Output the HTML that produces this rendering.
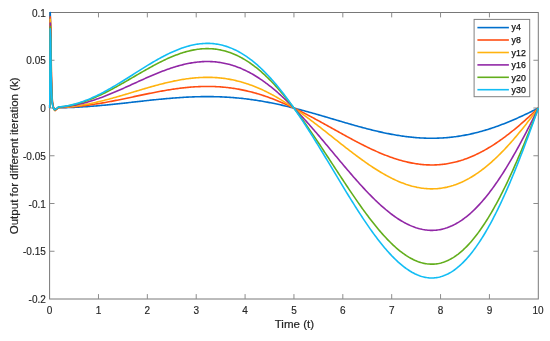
<!DOCTYPE html>
<html><head><meta charset="utf-8"><title>Output for different iteration</title>
<style>
html,body{margin:0;padding:0;background:#fff;}
svg{display:block;}
text{font-family:"Liberation Sans",sans-serif;fill:#262626;}
.tk{font-size:10px;stroke:#262626;stroke-width:0.15px;}
.lb{font-size:11.55px;stroke:#262626;stroke-width:0.2px;}
.lg{font-size:8.8px;fill:#111;stroke:#111;stroke-width:0.25px;}
.ax{stroke:#787878;stroke-width:1;fill:none;}
.cv path{fill:none;stroke-width:1.6;stroke-linejoin:round;stroke-linecap:butt;}
</style></head><body>
<svg width="550" height="341" viewBox="0 0 550 341">
<rect x="0" y="0" width="550" height="341" fill="#fff"/>
<g class="ax">
<rect x="49.60" y="12.50" width="488.70" height="286.50"/>
<path d="M98.47 299.00 V294.10 M98.47 12.50 V17.40 M147.34 299.00 V294.10 M147.34 12.50 V17.40 M196.21 299.00 V294.10 M196.21 12.50 V17.40 M245.08 299.00 V294.10 M245.08 12.50 V17.40 M293.95 299.00 V294.10 M293.95 12.50 V17.40 M342.82 299.00 V294.10 M342.82 12.50 V17.40 M391.69 299.00 V294.10 M391.69 12.50 V17.40 M440.56 299.00 V294.10 M440.56 12.50 V17.40 M489.43 299.00 V294.10 M489.43 12.50 V17.40 M49.60 60.25 H54.50 M538.30 60.25 H533.40 M49.60 108.00 H54.50 M538.30 108.00 H533.40 M49.60 155.75 H54.50 M538.30 155.75 H533.40 M49.60 203.50 H54.50 M538.30 203.50 H533.40 M49.60 251.25 H54.50 M538.30 251.25 H533.40 " stroke="#8c8c8c"/>
</g>
<g class="tk" text-anchor="middle">
<text x="49.60" y="313.5">0</text>
<text x="98.47" y="313.5">1</text>
<text x="147.34" y="313.5">2</text>
<text x="196.21" y="313.5">3</text>
<text x="245.08" y="313.5">4</text>
<text x="293.95" y="313.5">5</text>
<text x="342.82" y="313.5">6</text>
<text x="391.69" y="313.5">7</text>
<text x="440.56" y="313.5">8</text>
<text x="489.43" y="313.5">9</text>
<text x="538.00" y="313.5">10</text>
</g>
<g class="tk" text-anchor="end">
<text x="45.8" y="16.50">0.1</text>
<text x="45.8" y="64.25">0.05</text>
<text x="45.8" y="112.00">0</text>
<text x="45.8" y="159.75">-0.05</text>
<text x="45.8" y="207.50">-0.1</text>
<text x="45.8" y="255.25">-0.15</text>
<text x="45.8" y="303.00">-0.2</text>
</g>
<text class="lb" text-anchor="middle" x="294.4" y="327.7">Time (t)</text>
<text class="lb" text-anchor="middle" transform="translate(17.5 155.8) rotate(-90)">Output for different iteration (k)</text>
<g class="cv">
<path d="M49.75 108.10 L50.25 12.60 L50.65 26.93 L50.77 41.25 L50.98 60.35 L51.20 74.67 L51.49 87.09 L51.86 96.64 L52.29 102.37 L52.72 105.23 L53.70 108.73 L54.60 109.25 L56.30 108.67 L58.40 107.75 L59.60 107.74 L60.80 107.72 L62.00 107.70 L63.20 107.68 L64.40 107.65 L65.60 107.62 L66.79 107.59 L67.99 107.56 L69.19 107.52 L70.39 107.48 L71.59 107.43 L72.79 107.38 L73.99 107.33 L75.19 107.28 L76.39 107.22 L77.59 107.16 L78.79 107.10 L79.99 107.03 L81.19 106.96 L82.39 106.89 L83.59 106.82 L84.79 106.74 L85.99 106.66 L87.19 106.58 L88.39 106.50 L89.59 106.41 L90.79 106.32 L91.99 106.23 L93.19 106.14 L94.39 106.04 L95.59 105.94 L96.79 105.84 L97.99 105.74 L99.19 105.64 L100.39 105.53 L101.59 105.42 L102.79 105.31 L103.99 105.20 L105.19 105.09 L106.39 104.97 L107.59 104.86 L108.79 104.74 L109.99 104.62 L111.19 104.50 L112.39 104.38 L113.59 104.25 L114.79 104.13 L115.99 104.00 L117.18 103.88 L118.38 103.75 L119.58 103.62 L120.78 103.49 L121.98 103.36 L123.18 103.23 L124.38 103.09 L125.58 102.96 L126.78 102.83 L127.98 102.70 L129.18 102.56 L130.38 102.43 L131.58 102.29 L132.78 102.16 L133.98 102.02 L135.18 101.89 L136.38 101.76 L137.58 101.62 L138.78 101.49 L139.98 101.35 L141.18 101.22 L142.38 101.09 L143.58 100.95 L144.78 100.82 L145.98 100.69 L147.18 100.56 L148.38 100.43 L149.58 100.30 L150.78 100.17 L151.98 100.05 L153.18 99.92 L154.38 99.80 L155.58 99.68 L156.78 99.55 L157.98 99.43 L159.18 99.31 L160.38 99.20 L161.58 99.08 L162.78 98.97 L163.98 98.86 L165.18 98.75 L166.37 98.64 L167.57 98.53 L168.77 98.43 L169.97 98.33 L171.17 98.23 L172.37 98.13 L173.57 98.04 L174.77 97.94 L175.97 97.85 L177.17 97.77 L178.37 97.68 L179.57 97.60 L180.77 97.52 L181.97 97.45 L183.17 97.37 L184.37 97.30 L185.57 97.23 L186.77 97.17 L187.97 97.11 L189.17 97.05 L190.37 97.00 L191.57 96.95 L192.77 96.90 L193.97 96.85 L195.17 96.81 L196.37 96.78 L197.57 96.74 L198.77 96.71 L199.97 96.69 L201.17 96.67 L202.37 96.65 L203.57 96.63 L204.77 96.62 L205.97 96.61 L207.17 96.61 L208.37 96.61 L209.57 96.62 L210.77 96.63 L211.97 96.64 L213.17 96.66 L214.37 96.68 L215.56 96.71 L216.76 96.74 L217.96 96.77 L219.16 96.81 L220.36 96.86 L221.56 96.91 L222.76 96.96 L223.96 97.02 L225.16 97.08 L226.36 97.14 L227.56 97.21 L228.76 97.29 L229.96 97.37 L231.16 97.45 L232.36 97.54 L233.56 97.64 L234.76 97.74 L235.96 97.84 L237.16 97.95 L238.36 98.06 L239.56 98.18 L240.76 98.30 L241.96 98.42 L243.16 98.56 L244.36 98.69 L245.56 98.83 L246.76 98.98 L247.96 99.13 L249.16 99.28 L250.36 99.44 L251.56 99.60 L252.76 99.77 L253.96 99.94 L255.16 100.12 L256.36 100.30 L257.56 100.49 L258.76 100.68 L259.96 100.87 L261.16 101.07 L262.36 101.28 L263.56 101.49 L264.76 101.70 L265.95 101.92 L267.15 102.14 L268.35 102.36 L269.55 102.59 L270.75 102.83 L271.95 103.06 L273.15 103.31 L274.35 103.55 L275.55 103.80 L276.75 104.06 L277.95 104.31 L279.15 104.58 L280.35 104.84 L281.55 105.11 L282.75 105.38 L283.95 105.66 L285.15 105.94 L286.35 106.23 L287.55 106.51 L288.75 106.80 L289.95 107.10 L291.15 107.39 L292.35 107.69 L293.55 108.00 L294.75 108.30 L295.95 108.61 L297.15 108.92 L298.35 109.23 L299.55 109.55 L300.75 109.86 L301.95 110.19 L303.15 110.51 L304.35 110.83 L305.55 111.16 L306.75 111.49 L307.95 111.82 L309.15 112.16 L310.35 112.49 L311.55 112.83 L312.75 113.17 L313.95 113.51 L315.14 113.85 L316.34 114.20 L317.54 114.54 L318.74 114.89 L319.94 115.24 L321.14 115.59 L322.34 115.94 L323.54 116.29 L324.74 116.64 L325.94 117.00 L327.14 117.35 L328.34 117.70 L329.54 118.06 L330.74 118.41 L331.94 118.77 L333.14 119.12 L334.34 119.48 L335.54 119.83 L336.74 120.19 L337.94 120.54 L339.14 120.89 L340.34 121.25 L341.54 121.60 L342.74 121.95 L343.94 122.30 L345.14 122.65 L346.34 123.00 L347.54 123.35 L348.74 123.70 L349.94 124.04 L351.14 124.38 L352.34 124.73 L353.54 125.07 L354.74 125.40 L355.94 125.74 L357.14 126.07 L358.34 126.41 L359.54 126.74 L360.74 127.06 L361.94 127.39 L363.14 127.71 L364.34 128.03 L365.53 128.34 L366.73 128.66 L367.93 128.97 L369.13 129.27 L370.33 129.58 L371.53 129.88 L372.73 130.17 L373.93 130.46 L375.13 130.75 L376.33 131.04 L377.53 131.32 L378.73 131.60 L379.93 131.87 L381.13 132.14 L382.33 132.40 L383.53 132.66 L384.73 132.91 L385.93 133.16 L387.13 133.41 L388.33 133.65 L389.53 133.88 L390.73 134.11 L391.93 134.34 L393.13 134.56 L394.33 134.77 L395.53 134.98 L396.73 135.18 L397.93 135.38 L399.13 135.57 L400.33 135.76 L401.53 135.94 L402.73 136.11 L403.93 136.28 L405.13 136.44 L406.33 136.59 L407.53 136.74 L408.73 136.88 L409.93 137.02 L411.13 137.15 L412.33 137.27 L413.53 137.38 L414.72 137.49 L415.92 137.59 L417.12 137.69 L418.32 137.77 L419.52 137.85 L420.72 137.93 L421.92 137.99 L423.12 138.05 L424.32 138.10 L425.52 138.15 L426.72 138.18 L427.92 138.21 L429.12 138.23 L430.32 138.24 L431.52 138.25 L432.72 138.25 L433.92 138.24 L435.12 138.22 L436.32 138.19 L437.52 138.16 L438.72 138.12 L439.92 138.07 L441.12 138.01 L442.32 137.94 L443.52 137.87 L444.72 137.79 L445.92 137.70 L447.12 137.60 L448.32 137.49 L449.52 137.38 L450.72 137.25 L451.92 137.12 L453.12 136.98 L454.32 136.83 L455.52 136.68 L456.72 136.51 L457.92 136.34 L459.12 136.16 L460.32 135.97 L461.52 135.78 L462.72 135.57 L463.91 135.36 L465.11 135.13 L466.31 134.90 L467.51 134.67 L468.71 134.42 L469.91 134.17 L471.11 133.90 L472.31 133.63 L473.51 133.35 L474.71 133.07 L475.91 132.77 L477.11 132.47 L478.31 132.16 L479.51 131.84 L480.71 131.51 L481.91 131.18 L483.11 130.84 L484.31 130.49 L485.51 130.13 L486.71 129.77 L487.91 129.40 L489.11 129.02 L490.31 128.63 L491.51 128.24 L492.71 127.83 L493.91 127.43 L495.11 127.01 L496.31 126.59 L497.51 126.16 L498.71 125.72 L499.91 125.28 L501.11 124.83 L502.31 124.37 L503.51 123.91 L504.71 123.44 L505.91 122.96 L507.11 122.48 L508.31 121.99 L509.51 121.50 L510.71 121.00 L511.91 120.49 L513.11 119.98 L514.30 119.46 L515.50 118.94 L516.70 118.41 L517.90 117.87 L519.10 117.33 L520.30 116.79 L521.50 116.24 L522.70 115.69 L523.90 115.13 L525.10 114.56 L526.30 114.00 L527.50 113.42 L528.70 112.85 L529.90 112.27 L531.10 111.68 L532.30 111.09 L533.50 110.50 L534.70 109.91 L535.90 109.31 L537.10 108.71 L538.30 108.10" stroke="#006FCC"/>
<path d="M49.75 108.10 L50.25 16.90 L50.92 30.58 L51.04 44.26 L51.25 62.50 L51.47 76.18 L51.76 88.04 L52.13 97.16 L52.56 102.63 L52.99 105.36 L54.15 109.47 L55.05 110.58 L56.57 109.34 L58.40 107.61 L59.60 107.58 L60.80 107.54 L62.00 107.50 L63.20 107.45 L64.40 107.40 L65.60 107.33 L66.79 107.27 L67.99 107.20 L69.19 107.12 L70.39 107.03 L71.59 106.94 L72.79 106.85 L73.99 106.75 L75.19 106.64 L76.39 106.53 L77.59 106.41 L78.79 106.29 L79.99 106.17 L81.19 106.03 L82.39 105.90 L83.59 105.75 L84.79 105.61 L85.99 105.46 L87.19 105.30 L88.39 105.14 L89.59 104.97 L90.79 104.80 L91.99 104.63 L93.19 104.45 L94.39 104.27 L95.59 104.08 L96.79 103.89 L97.99 103.70 L99.19 103.50 L100.39 103.30 L101.59 103.09 L102.79 102.88 L103.99 102.67 L105.19 102.46 L106.39 102.24 L107.59 102.02 L108.79 101.79 L109.99 101.57 L111.19 101.34 L112.39 101.10 L113.59 100.87 L114.79 100.63 L115.99 100.40 L117.18 100.16 L118.38 99.91 L119.58 99.67 L120.78 99.42 L121.98 99.18 L123.18 98.93 L124.38 98.68 L125.58 98.43 L126.78 98.18 L127.98 97.92 L129.18 97.67 L130.38 97.42 L131.58 97.16 L132.78 96.91 L133.98 96.65 L135.18 96.40 L136.38 96.15 L137.58 95.89 L138.78 95.64 L139.98 95.39 L141.18 95.13 L142.38 94.88 L143.58 94.63 L144.78 94.38 L145.98 94.14 L147.18 93.89 L148.38 93.64 L149.58 93.40 L150.78 93.16 L151.98 92.92 L153.18 92.68 L154.38 92.45 L155.58 92.22 L156.78 91.99 L157.98 91.76 L159.18 91.54 L160.38 91.32 L161.58 91.10 L162.78 90.88 L163.98 90.67 L165.18 90.47 L166.37 90.26 L167.57 90.06 L168.77 89.87 L169.97 89.67 L171.17 89.49 L172.37 89.30 L173.57 89.12 L174.77 88.95 L175.97 88.78 L177.17 88.62 L178.37 88.46 L179.57 88.30 L180.77 88.15 L181.97 88.01 L183.17 87.87 L184.37 87.74 L185.57 87.61 L186.77 87.49 L187.97 87.38 L189.17 87.27 L190.37 87.16 L191.57 87.07 L192.77 86.98 L193.97 86.89 L195.17 86.82 L196.37 86.75 L197.57 86.68 L198.77 86.63 L199.97 86.58 L201.17 86.54 L202.37 86.50 L203.57 86.47 L204.77 86.45 L205.97 86.44 L207.17 86.44 L208.37 86.44 L209.57 86.45 L210.77 86.47 L211.97 86.49 L213.17 86.53 L214.37 86.57 L215.56 86.62 L216.76 86.68 L217.96 86.74 L219.16 86.82 L220.36 86.90 L221.56 86.99 L222.76 87.09 L223.96 87.20 L225.16 87.31 L226.36 87.44 L227.56 87.57 L228.76 87.71 L229.96 87.87 L231.16 88.02 L232.36 88.19 L233.56 88.37 L234.76 88.56 L235.96 88.75 L237.16 88.95 L238.36 89.16 L239.56 89.39 L240.76 89.61 L241.96 89.85 L243.16 90.10 L244.36 90.36 L245.56 90.62 L246.76 90.89 L247.96 91.18 L249.16 91.47 L250.36 91.77 L251.56 92.07 L252.76 92.39 L253.96 92.72 L255.16 93.05 L256.36 93.39 L257.56 93.74 L258.76 94.10 L259.96 94.47 L261.16 94.85 L262.36 95.23 L263.56 95.63 L264.76 96.03 L265.95 96.44 L267.15 96.85 L268.35 97.28 L269.55 97.71 L270.75 98.15 L271.95 98.60 L273.15 99.06 L274.35 99.52 L275.55 100.00 L276.75 100.48 L277.95 100.96 L279.15 101.46 L280.35 101.96 L281.55 102.46 L282.75 102.98 L283.95 103.50 L285.15 104.03 L286.35 104.57 L287.55 105.11 L288.75 105.65 L289.95 106.21 L291.15 106.77 L292.35 107.34 L293.55 107.91 L294.75 108.48 L295.95 109.06 L297.15 109.65 L298.35 110.23 L299.55 110.83 L300.75 111.43 L301.95 112.03 L303.15 112.64 L304.35 113.26 L305.55 113.87 L306.75 114.49 L307.95 115.12 L309.15 115.75 L310.35 116.38 L311.55 117.02 L312.75 117.66 L313.95 118.31 L315.14 118.95 L316.34 119.60 L317.54 120.25 L318.74 120.91 L319.94 121.56 L321.14 122.22 L322.34 122.88 L323.54 123.55 L324.74 124.21 L325.94 124.88 L327.14 125.54 L328.34 126.21 L329.54 126.88 L330.74 127.55 L331.94 128.22 L333.14 128.89 L334.34 129.56 L335.54 130.23 L336.74 130.89 L337.94 131.56 L339.14 132.23 L340.34 132.90 L341.54 133.56 L342.74 134.22 L343.94 134.89 L345.14 135.55 L346.34 136.20 L347.54 136.86 L348.74 137.51 L349.94 138.16 L351.14 138.81 L352.34 139.46 L353.54 140.10 L354.74 140.73 L355.94 141.37 L357.14 142.00 L358.34 142.62 L359.54 143.24 L360.74 143.86 L361.94 144.47 L363.14 145.08 L364.34 145.68 L365.53 146.28 L366.73 146.87 L367.93 147.45 L369.13 148.03 L370.33 148.60 L371.53 149.17 L372.73 149.72 L373.93 150.28 L375.13 150.82 L376.33 151.36 L377.53 151.89 L378.73 152.41 L379.93 152.92 L381.13 153.43 L382.33 153.93 L383.53 154.42 L384.73 154.90 L385.93 155.37 L387.13 155.83 L388.33 156.28 L389.53 156.73 L390.73 157.16 L391.93 157.58 L393.13 158.00 L394.33 158.40 L395.53 158.79 L396.73 159.18 L397.93 159.55 L399.13 159.91 L400.33 160.26 L401.53 160.60 L402.73 160.92 L403.93 161.24 L405.13 161.54 L406.33 161.84 L407.53 162.12 L408.73 162.38 L409.93 162.64 L411.13 162.88 L412.33 163.11 L413.53 163.33 L414.72 163.53 L415.92 163.72 L417.12 163.90 L418.32 164.06 L419.52 164.22 L420.72 164.35 L421.92 164.48 L423.12 164.59 L424.32 164.68 L425.52 164.76 L426.72 164.83 L427.92 164.88 L429.12 164.92 L430.32 164.95 L431.52 164.96 L432.72 164.95 L433.92 164.93 L435.12 164.90 L436.32 164.85 L437.52 164.79 L438.72 164.71 L439.92 164.61 L441.12 164.50 L442.32 164.38 L443.52 164.24 L444.72 164.09 L445.92 163.92 L447.12 163.73 L448.32 163.53 L449.52 163.31 L450.72 163.08 L451.92 162.83 L453.12 162.57 L454.32 162.29 L455.52 162.00 L456.72 161.69 L457.92 161.36 L459.12 161.02 L460.32 160.66 L461.52 160.29 L462.72 159.91 L463.91 159.50 L465.11 159.08 L466.31 158.65 L467.51 158.20 L468.71 157.74 L469.91 157.26 L471.11 156.76 L472.31 156.25 L473.51 155.73 L474.71 155.19 L475.91 154.63 L477.11 154.06 L478.31 153.47 L479.51 152.87 L480.71 152.26 L481.91 151.63 L483.11 150.98 L484.31 150.33 L485.51 149.65 L486.71 148.96 L487.91 148.26 L489.11 147.55 L490.31 146.82 L491.51 146.07 L492.71 145.32 L493.91 144.55 L495.11 143.76 L496.31 142.97 L497.51 142.16 L498.71 141.33 L499.91 140.50 L501.11 139.65 L502.31 138.79 L503.51 137.91 L504.71 137.03 L505.91 136.13 L507.11 135.22 L508.31 134.30 L509.51 133.37 L510.71 132.42 L511.91 131.47 L513.11 130.50 L514.30 129.52 L515.50 128.54 L516.70 127.54 L517.90 126.53 L519.10 125.52 L520.30 124.49 L521.50 123.45 L522.70 122.41 L523.90 121.35 L525.10 120.29 L526.30 119.22 L527.50 118.14 L528.70 117.05 L529.90 115.96 L531.10 114.86 L532.30 113.75 L533.50 112.63 L534.70 111.51 L535.90 110.38 L537.10 109.24 L538.30 108.10" stroke="#FF4D12"/>
<path d="M49.75 108.10 L50.25 19.19 L50.83 32.53 L50.95 45.86 L51.16 63.64 L51.38 76.98 L51.67 88.54 L52.04 97.43 L52.47 102.77 L52.90 105.43 L54.00 109.36 L54.90 110.39 L56.48 109.25 L58.40 107.48 L59.60 107.44 L60.80 107.38 L62.00 107.32 L63.20 107.24 L64.40 107.16 L65.60 107.08 L66.79 106.98 L67.99 106.87 L69.19 106.76 L70.39 106.64 L71.59 106.51 L72.79 106.37 L73.99 106.23 L75.19 106.08 L76.39 105.92 L77.59 105.75 L78.79 105.57 L79.99 105.39 L81.19 105.20 L82.39 105.01 L83.59 104.80 L84.79 104.59 L85.99 104.38 L87.19 104.15 L88.39 103.92 L89.59 103.69 L90.79 103.44 L91.99 103.20 L93.19 102.94 L94.39 102.68 L95.59 102.41 L96.79 102.14 L97.99 101.87 L99.19 101.58 L100.39 101.30 L101.59 101.00 L102.79 100.71 L103.99 100.41 L105.19 100.10 L106.39 99.79 L107.59 99.47 L108.79 99.16 L109.99 98.83 L111.19 98.51 L112.39 98.18 L113.59 97.84 L114.79 97.51 L115.99 97.17 L117.18 96.83 L118.38 96.48 L119.58 96.14 L120.78 95.79 L121.98 95.44 L123.18 95.08 L124.38 94.73 L125.58 94.37 L126.78 94.01 L127.98 93.65 L129.18 93.30 L130.38 92.93 L131.58 92.57 L132.78 92.21 L133.98 91.85 L135.18 91.49 L136.38 91.13 L137.58 90.77 L138.78 90.41 L139.98 90.05 L141.18 89.69 L142.38 89.33 L143.58 88.98 L144.78 88.62 L145.98 88.27 L147.18 87.92 L148.38 87.57 L149.58 87.23 L150.78 86.89 L151.98 86.55 L153.18 86.21 L154.38 85.88 L155.58 85.55 L156.78 85.22 L157.98 84.90 L159.18 84.58 L160.38 84.27 L161.58 83.96 L162.78 83.65 L163.98 83.35 L165.18 83.06 L166.37 82.77 L167.57 82.48 L168.77 82.21 L169.97 81.93 L171.17 81.67 L172.37 81.41 L173.57 81.15 L174.77 80.90 L175.97 80.66 L177.17 80.43 L178.37 80.20 L179.57 79.98 L180.77 79.77 L181.97 79.57 L183.17 79.37 L184.37 79.18 L185.57 79.00 L186.77 78.83 L187.97 78.67 L189.17 78.51 L190.37 78.37 L191.57 78.23 L192.77 78.10 L193.97 77.98 L195.17 77.87 L196.37 77.78 L197.57 77.69 L198.77 77.61 L199.97 77.54 L201.17 77.48 L202.37 77.43 L203.57 77.39 L204.77 77.36 L205.97 77.34 L207.17 77.33 L208.37 77.34 L209.57 77.35 L210.77 77.38 L211.97 77.41 L213.17 77.46 L214.37 77.52 L215.56 77.59 L216.76 77.67 L217.96 77.77 L219.16 77.87 L220.36 77.99 L221.56 78.12 L222.76 78.26 L223.96 78.41 L225.16 78.58 L226.36 78.76 L227.56 78.95 L228.76 79.15 L229.96 79.36 L231.16 79.59 L232.36 79.83 L233.56 80.08 L234.76 80.34 L235.96 80.62 L237.16 80.91 L238.36 81.21 L239.56 81.52 L240.76 81.85 L241.96 82.19 L243.16 82.54 L244.36 82.90 L245.56 83.28 L246.76 83.66 L247.96 84.06 L249.16 84.48 L250.36 84.90 L251.56 85.34 L252.76 85.79 L253.96 86.25 L255.16 86.73 L256.36 87.21 L257.56 87.71 L258.76 88.22 L259.96 88.75 L261.16 89.28 L262.36 89.83 L263.56 90.38 L264.76 90.95 L265.95 91.54 L267.15 92.13 L268.35 92.73 L269.55 93.35 L270.75 93.97 L271.95 94.61 L273.15 95.26 L274.35 95.92 L275.55 96.59 L276.75 97.27 L277.95 97.96 L279.15 98.66 L280.35 99.38 L281.55 100.10 L282.75 100.83 L283.95 101.57 L285.15 102.32 L286.35 103.08 L287.55 103.85 L288.75 104.63 L289.95 105.41 L291.15 106.21 L292.35 107.01 L293.55 107.83 L294.75 108.64 L295.95 109.46 L297.15 110.29 L298.35 111.13 L299.55 111.98 L300.75 112.83 L301.95 113.69 L303.15 114.55 L304.35 115.42 L305.55 116.30 L306.75 117.18 L307.95 118.07 L309.15 118.97 L310.35 119.87 L311.55 120.77 L312.75 121.68 L313.95 122.59 L315.14 123.51 L316.34 124.43 L317.54 125.36 L318.74 126.29 L319.94 127.22 L321.14 128.16 L322.34 129.10 L323.54 130.04 L324.74 130.98 L325.94 131.93 L327.14 132.87 L328.34 133.82 L329.54 134.77 L330.74 135.72 L331.94 136.67 L333.14 137.62 L334.34 138.57 L335.54 139.52 L336.74 140.47 L337.94 141.42 L339.14 142.37 L340.34 143.32 L341.54 144.26 L342.74 145.20 L343.94 146.14 L345.14 147.08 L346.34 148.01 L347.54 148.95 L348.74 149.87 L349.94 150.80 L351.14 151.72 L352.34 152.63 L353.54 153.54 L354.74 154.45 L355.94 155.35 L357.14 156.24 L358.34 157.13 L359.54 158.01 L360.74 158.89 L361.94 159.76 L363.14 160.62 L364.34 161.47 L365.53 162.32 L366.73 163.16 L367.93 163.99 L369.13 164.81 L370.33 165.62 L371.53 166.42 L372.73 167.22 L373.93 168.00 L375.13 168.77 L376.33 169.54 L377.53 170.29 L378.73 171.03 L379.93 171.76 L381.13 172.48 L382.33 173.18 L383.53 173.88 L384.73 174.56 L385.93 175.23 L387.13 175.89 L388.33 176.53 L389.53 177.16 L390.73 177.78 L391.93 178.38 L393.13 178.97 L394.33 179.54 L395.53 180.10 L396.73 180.64 L397.93 181.17 L399.13 181.68 L400.33 182.18 L401.53 182.66 L402.73 183.12 L403.93 183.57 L405.13 184.00 L406.33 184.42 L407.53 184.81 L408.73 185.19 L409.93 185.55 L411.13 185.90 L412.33 186.23 L413.53 186.53 L414.72 186.82 L415.92 187.09 L417.12 187.35 L418.32 187.58 L419.52 187.79 L420.72 187.99 L421.92 188.17 L423.12 188.32 L424.32 188.46 L425.52 188.57 L426.72 188.67 L427.92 188.75 L429.12 188.80 L430.32 188.84 L431.52 188.85 L432.72 188.84 L433.92 188.82 L435.12 188.77 L436.32 188.70 L437.52 188.61 L438.72 188.49 L439.92 188.36 L441.12 188.21 L442.32 188.03 L443.52 187.83 L444.72 187.61 L445.92 187.37 L447.12 187.11 L448.32 186.82 L449.52 186.51 L450.72 186.18 L451.92 185.83 L453.12 185.46 L454.32 185.06 L455.52 184.64 L456.72 184.20 L457.92 183.74 L459.12 183.26 L460.32 182.75 L461.52 182.23 L462.72 181.67 L463.91 181.10 L465.11 180.51 L466.31 179.89 L467.51 179.25 L468.71 178.60 L469.91 177.91 L471.11 177.21 L472.31 176.49 L473.51 175.74 L474.71 174.97 L475.91 174.18 L477.11 173.37 L478.31 172.54 L479.51 171.69 L480.71 170.81 L481.91 169.92 L483.11 169.00 L484.31 168.07 L485.51 167.11 L486.71 166.14 L487.91 165.14 L489.11 164.12 L490.31 163.09 L491.51 162.03 L492.71 160.96 L493.91 159.86 L495.11 158.75 L496.31 157.62 L497.51 156.47 L498.71 155.30 L499.91 154.11 L501.11 152.90 L502.31 151.68 L503.51 150.44 L504.71 149.18 L505.91 147.91 L507.11 146.61 L508.31 145.31 L509.51 143.98 L510.71 142.64 L511.91 141.29 L513.11 139.91 L514.30 138.53 L515.50 137.13 L516.70 135.71 L517.90 134.28 L519.10 132.83 L520.30 131.38 L521.50 129.91 L522.70 128.42 L523.90 126.92 L525.10 125.42 L526.30 123.89 L527.50 122.36 L528.70 120.82 L529.90 119.26 L531.10 117.70 L532.30 116.12 L533.50 114.53 L534.70 112.94 L535.90 111.33 L537.10 109.72 L538.30 108.10" stroke="#FFB30F"/>
<path d="M49.75 108.10 L50.25 23.01 L50.80 35.77 L50.92 48.54 L51.13 65.55 L51.35 78.32 L51.64 89.38 L52.01 97.89 L52.44 102.99 L52.87 105.55 L53.95 109.15 L54.85 110.01 L56.45 109.06 L58.40 107.26 L59.60 107.19 L60.80 107.10 L62.00 107.00 L63.20 106.89 L64.40 106.76 L65.60 106.63 L66.79 106.48 L67.99 106.31 L69.19 106.14 L70.39 105.95 L71.59 105.76 L72.79 105.55 L73.99 105.32 L75.19 105.09 L76.39 104.85 L77.59 104.59 L78.79 104.32 L79.99 104.05 L81.19 103.76 L82.39 103.46 L83.59 103.15 L84.79 102.83 L85.99 102.50 L87.19 102.16 L88.39 101.81 L89.59 101.45 L90.79 101.08 L91.99 100.71 L93.19 100.32 L94.39 99.92 L95.59 99.52 L96.79 99.11 L97.99 98.69 L99.19 98.26 L100.39 97.82 L101.59 97.38 L102.79 96.93 L103.99 96.47 L105.19 96.01 L106.39 95.54 L107.59 95.06 L108.79 94.58 L109.99 94.09 L111.19 93.59 L112.39 93.09 L113.59 92.59 L114.79 92.08 L115.99 91.56 L117.18 91.05 L118.38 90.52 L119.58 90.00 L120.78 89.47 L121.98 88.94 L123.18 88.40 L124.38 87.86 L125.58 87.32 L126.78 86.78 L127.98 86.24 L129.18 85.69 L130.38 85.15 L131.58 84.60 L132.78 84.05 L133.98 83.51 L135.18 82.96 L136.38 82.41 L137.58 81.87 L138.78 81.32 L139.98 80.78 L141.18 80.23 L142.38 79.69 L143.58 79.15 L144.78 78.62 L145.98 78.09 L147.18 77.56 L148.38 77.03 L149.58 76.51 L150.78 75.99 L151.98 75.47 L153.18 74.96 L154.38 74.46 L155.58 73.96 L156.78 73.46 L157.98 72.98 L159.18 72.49 L160.38 72.02 L161.58 71.55 L162.78 71.09 L163.98 70.63 L165.18 70.19 L166.37 69.75 L167.57 69.32 L168.77 68.90 L169.97 68.48 L171.17 68.08 L172.37 67.69 L173.57 67.30 L174.77 66.93 L175.97 66.56 L177.17 66.21 L178.37 65.87 L179.57 65.53 L180.77 65.21 L181.97 64.90 L183.17 64.61 L184.37 64.32 L185.57 64.05 L186.77 63.79 L187.97 63.54 L189.17 63.31 L190.37 63.09 L191.57 62.88 L192.77 62.68 L193.97 62.51 L195.17 62.34 L196.37 62.19 L197.57 62.05 L198.77 61.93 L199.97 61.83 L201.17 61.74 L202.37 61.66 L203.57 61.60 L204.77 61.56 L205.97 61.53 L207.17 61.52 L208.37 61.52 L209.57 61.55 L210.77 61.58 L211.97 61.64 L213.17 61.71 L214.37 61.80 L215.56 61.91 L216.76 62.03 L217.96 62.18 L219.16 62.34 L220.36 62.51 L221.56 62.71 L222.76 62.92 L223.96 63.16 L225.16 63.41 L226.36 63.67 L227.56 63.96 L228.76 64.27 L229.96 64.59 L231.16 64.93 L232.36 65.30 L233.56 65.68 L234.76 66.08 L235.96 66.49 L237.16 66.93 L238.36 67.39 L239.56 67.86 L240.76 68.35 L241.96 68.87 L243.16 69.40 L244.36 69.95 L245.56 70.52 L246.76 71.10 L247.96 71.71 L249.16 72.33 L250.36 72.98 L251.56 73.64 L252.76 74.32 L253.96 75.02 L255.16 75.74 L256.36 76.48 L257.56 77.23 L258.76 78.01 L259.96 78.80 L261.16 79.61 L262.36 80.43 L263.56 81.28 L264.76 82.14 L265.95 83.02 L267.15 83.92 L268.35 84.83 L269.55 85.77 L270.75 86.71 L271.95 87.68 L273.15 88.66 L274.35 89.66 L275.55 90.67 L276.75 91.71 L277.95 92.75 L279.15 93.81 L280.35 94.89 L281.55 95.98 L282.75 97.09 L283.95 98.21 L285.15 99.35 L286.35 100.50 L287.55 101.66 L288.75 102.84 L289.95 104.03 L291.15 105.24 L292.35 106.46 L293.55 107.69 L294.75 108.92 L295.95 110.17 L297.15 111.42 L298.35 112.69 L299.55 113.97 L300.75 115.26 L301.95 116.56 L303.15 117.87 L304.35 119.18 L305.55 120.51 L306.75 121.85 L307.95 123.20 L309.15 124.55 L310.35 125.91 L311.55 127.28 L312.75 128.66 L313.95 130.04 L315.14 131.43 L316.34 132.83 L317.54 134.23 L318.74 135.64 L319.94 137.05 L321.14 138.47 L322.34 139.89 L323.54 141.31 L324.74 142.74 L325.94 144.17 L327.14 145.61 L328.34 147.04 L329.54 148.48 L330.74 149.92 L331.94 151.36 L333.14 152.80 L334.34 154.24 L335.54 155.67 L336.74 157.11 L337.94 158.55 L339.14 159.98 L340.34 161.42 L341.54 162.85 L342.74 164.27 L343.94 165.70 L345.14 167.12 L346.34 168.53 L347.54 169.94 L348.74 171.35 L349.94 172.74 L351.14 174.14 L352.34 175.52 L353.54 176.90 L354.74 178.27 L355.94 179.63 L357.14 180.99 L358.34 182.33 L359.54 183.67 L360.74 184.99 L361.94 186.31 L363.14 187.61 L364.34 188.91 L365.53 190.19 L366.73 191.46 L367.93 192.71 L369.13 193.96 L370.33 195.18 L371.53 196.40 L372.73 197.60 L373.93 198.79 L375.13 199.96 L376.33 201.11 L377.53 202.25 L378.73 203.38 L379.93 204.48 L381.13 205.57 L382.33 206.64 L383.53 207.69 L384.73 208.72 L385.93 209.74 L387.13 210.73 L388.33 211.70 L389.53 212.66 L390.73 213.59 L391.93 214.50 L393.13 215.39 L394.33 216.26 L395.53 217.10 L396.73 217.93 L397.93 218.72 L399.13 219.50 L400.33 220.25 L401.53 220.98 L402.73 221.68 L403.93 222.36 L405.13 223.01 L406.33 223.64 L407.53 224.24 L408.73 224.82 L409.93 225.37 L411.13 225.89 L412.33 226.38 L413.53 226.85 L414.72 227.29 L415.92 227.70 L417.12 228.08 L418.32 228.43 L419.52 228.76 L420.72 229.05 L421.92 229.32 L423.12 229.56 L424.32 229.76 L425.52 229.94 L426.72 230.08 L427.92 230.20 L429.12 230.28 L430.32 230.33 L431.52 230.36 L432.72 230.35 L433.92 230.30 L435.12 230.23 L436.32 230.13 L437.52 229.99 L438.72 229.82 L439.92 229.62 L441.12 229.38 L442.32 229.11 L443.52 228.81 L444.72 228.48 L445.92 228.11 L447.12 227.71 L448.32 227.28 L449.52 226.82 L450.72 226.32 L451.92 225.79 L453.12 225.22 L454.32 224.62 L455.52 223.99 L456.72 223.32 L457.92 222.62 L459.12 221.89 L460.32 221.12 L461.52 220.33 L462.72 219.49 L463.91 218.63 L465.11 217.73 L466.31 216.79 L467.51 215.83 L468.71 214.83 L469.91 213.80 L471.11 212.73 L472.31 211.64 L473.51 210.51 L474.71 209.34 L475.91 208.15 L477.11 206.92 L478.31 205.66 L479.51 204.37 L480.71 203.05 L481.91 201.69 L483.11 200.31 L484.31 198.89 L485.51 197.45 L486.71 195.97 L487.91 194.46 L489.11 192.92 L490.31 191.35 L491.51 189.75 L492.71 188.12 L493.91 186.47 L495.11 184.78 L496.31 183.07 L497.51 181.33 L498.71 179.56 L499.91 177.76 L501.11 175.93 L502.31 174.08 L503.51 172.20 L504.71 170.30 L505.91 168.37 L507.11 166.41 L508.31 164.43 L509.51 162.43 L510.71 160.40 L511.91 158.34 L513.11 156.27 L514.30 154.17 L515.50 152.04 L516.70 149.90 L517.90 147.74 L519.10 145.55 L520.30 143.34 L521.50 141.11 L522.70 138.87 L523.90 136.60 L525.10 134.32 L526.30 132.01 L527.50 129.69 L528.70 127.35 L529.90 125.00 L531.10 122.63 L532.30 120.24 L533.50 117.84 L534.70 115.43 L535.90 113.00 L537.10 110.55 L538.30 108.10" stroke="#9127A6"/>
<path d="M49.75 108.10 L50.25 26.64 L50.74 38.86 L50.86 51.08 L51.07 67.37 L51.29 79.59 L51.58 90.18 L51.95 98.32 L52.38 103.21 L52.81 105.66 L53.85 109.05 L54.75 109.82 L56.39 108.96 L58.40 107.08 L59.60 106.99 L60.80 106.87 L62.00 106.74 L63.20 106.60 L64.40 106.44 L65.60 106.26 L66.79 106.07 L67.99 105.86 L69.19 105.63 L70.39 105.39 L71.59 105.14 L72.79 104.87 L73.99 104.59 L75.19 104.29 L76.39 103.98 L77.59 103.65 L78.79 103.31 L79.99 102.95 L81.19 102.58 L82.39 102.20 L83.59 101.80 L84.79 101.39 L85.99 100.97 L87.19 100.54 L88.39 100.09 L89.59 99.63 L90.79 99.16 L91.99 98.68 L93.19 98.18 L94.39 97.68 L95.59 97.16 L96.79 96.64 L97.99 96.10 L99.19 95.55 L100.39 94.99 L101.59 94.43 L102.79 93.85 L103.99 93.27 L105.19 92.67 L106.39 92.07 L107.59 91.46 L108.79 90.85 L109.99 90.22 L111.19 89.59 L112.39 88.95 L113.59 88.31 L114.79 87.66 L115.99 87.00 L117.18 86.34 L118.38 85.67 L119.58 85.00 L120.78 84.32 L121.98 83.65 L123.18 82.96 L124.38 82.28 L125.58 81.59 L126.78 80.89 L127.98 80.20 L129.18 79.50 L130.38 78.81 L131.58 78.11 L132.78 77.41 L133.98 76.71 L135.18 76.01 L136.38 75.31 L137.58 74.62 L138.78 73.92 L139.98 73.22 L141.18 72.53 L142.38 71.84 L143.58 71.15 L144.78 70.47 L145.98 69.79 L147.18 69.11 L148.38 68.44 L149.58 67.77 L150.78 67.11 L151.98 66.45 L153.18 65.80 L154.38 65.16 L155.58 64.52 L156.78 63.89 L157.98 63.27 L159.18 62.65 L160.38 62.05 L161.58 61.45 L162.78 60.86 L163.98 60.28 L165.18 59.71 L166.37 59.15 L167.57 58.60 L168.77 58.06 L169.97 57.53 L171.17 57.02 L172.37 56.51 L173.57 56.02 L174.77 55.55 L175.97 55.08 L177.17 54.63 L178.37 54.19 L179.57 53.77 L180.77 53.36 L181.97 52.96 L183.17 52.58 L184.37 52.22 L185.57 51.87 L186.77 51.54 L187.97 51.22 L189.17 50.92 L190.37 50.64 L191.57 50.38 L192.77 50.13 L193.97 49.90 L195.17 49.69 L196.37 49.50 L197.57 49.32 L198.77 49.17 L199.97 49.03 L201.17 48.92 L202.37 48.82 L203.57 48.75 L204.77 48.69 L205.97 48.66 L207.17 48.64 L208.37 48.65 L209.57 48.68 L210.77 48.72 L211.97 48.80 L213.17 48.89 L214.37 49.00 L215.56 49.14 L216.76 49.30 L217.96 49.48 L219.16 49.68 L220.36 49.91 L221.56 50.16 L222.76 50.43 L223.96 50.73 L225.16 51.05 L226.36 51.39 L227.56 51.76 L228.76 52.15 L229.96 52.56 L231.16 53.00 L232.36 53.46 L233.56 53.95 L234.76 54.46 L235.96 54.99 L237.16 55.55 L238.36 56.13 L239.56 56.73 L240.76 57.36 L241.96 58.02 L243.16 58.70 L244.36 59.40 L245.56 60.12 L246.76 60.87 L247.96 61.65 L249.16 62.45 L250.36 63.27 L251.56 64.11 L252.76 64.98 L253.96 65.88 L255.16 66.79 L256.36 67.74 L257.56 68.70 L258.76 69.69 L259.96 70.70 L261.16 71.73 L262.36 72.79 L263.56 73.86 L264.76 74.96 L265.95 76.09 L267.15 77.23 L268.35 78.40 L269.55 79.59 L270.75 80.80 L271.95 82.03 L273.15 83.29 L274.35 84.56 L275.55 85.86 L276.75 87.17 L277.95 88.51 L279.15 89.86 L280.35 91.24 L281.55 92.63 L282.75 94.05 L283.95 95.48 L285.15 96.93 L286.35 98.40 L287.55 99.88 L288.75 101.39 L289.95 102.91 L291.15 104.45 L292.35 106.00 L293.55 107.57 L294.75 109.15 L295.95 110.74 L297.15 112.34 L298.35 113.96 L299.55 115.59 L300.75 117.24 L301.95 118.89 L303.15 120.57 L304.35 122.25 L305.55 123.94 L306.75 125.65 L307.95 127.37 L309.15 129.10 L310.35 130.84 L311.55 132.59 L312.75 134.34 L313.95 136.11 L315.14 137.88 L316.34 139.67 L317.54 141.46 L318.74 143.25 L319.94 145.06 L321.14 146.86 L322.34 148.68 L323.54 150.50 L324.74 152.32 L325.94 154.15 L327.14 155.98 L328.34 157.81 L329.54 159.64 L330.74 161.48 L331.94 163.32 L333.14 165.15 L334.34 166.99 L335.54 168.83 L336.74 170.66 L337.94 172.50 L339.14 174.33 L340.34 176.16 L341.54 177.98 L342.74 179.80 L343.94 181.62 L345.14 183.43 L346.34 185.24 L347.54 187.04 L348.74 188.83 L349.94 190.62 L351.14 192.39 L352.34 194.16 L353.54 195.92 L354.74 197.67 L355.94 199.41 L357.14 201.14 L358.34 202.85 L359.54 204.56 L360.74 206.25 L361.94 207.93 L363.14 209.60 L364.34 211.25 L365.53 212.88 L366.73 214.50 L367.93 216.10 L369.13 217.69 L370.33 219.26 L371.53 220.81 L372.73 222.35 L373.93 223.86 L375.13 225.35 L376.33 226.83 L377.53 228.28 L378.73 229.72 L379.93 231.13 L381.13 232.52 L382.33 233.88 L383.53 235.22 L384.73 236.54 L385.93 237.83 L387.13 239.10 L388.33 240.35 L389.53 241.56 L390.73 242.75 L391.93 243.92 L393.13 245.05 L394.33 246.16 L395.53 247.24 L396.73 248.29 L397.93 249.31 L399.13 250.30 L400.33 251.26 L401.53 252.19 L402.73 253.09 L403.93 253.95 L405.13 254.79 L406.33 255.59 L407.53 256.35 L408.73 257.09 L409.93 257.79 L411.13 258.45 L412.33 259.08 L413.53 259.68 L414.72 260.24 L415.92 260.76 L417.12 261.25 L418.32 261.70 L419.52 262.12 L420.72 262.49 L421.92 262.83 L423.12 263.13 L424.32 263.40 L425.52 263.62 L426.72 263.81 L427.92 263.95 L429.12 264.06 L430.32 264.13 L431.52 264.16 L432.72 264.14 L433.92 264.09 L435.12 264.00 L436.32 263.86 L437.52 263.69 L438.72 263.47 L439.92 263.21 L441.12 262.91 L442.32 262.57 L443.52 262.19 L444.72 261.76 L445.92 261.29 L447.12 260.78 L448.32 260.23 L449.52 259.64 L450.72 259.00 L451.92 258.32 L453.12 257.60 L454.32 256.84 L455.52 256.03 L456.72 255.18 L457.92 254.29 L459.12 253.35 L460.32 252.37 L461.52 251.35 L462.72 250.29 L463.91 249.18 L465.11 248.04 L466.31 246.85 L467.51 245.61 L468.71 244.34 L469.91 243.02 L471.11 241.66 L472.31 240.26 L473.51 238.82 L474.71 237.33 L475.91 235.81 L477.11 234.24 L478.31 232.64 L479.51 230.99 L480.71 229.30 L481.91 227.57 L483.11 225.80 L484.31 223.99 L485.51 222.15 L486.71 220.26 L487.91 218.33 L489.11 216.37 L490.31 214.37 L491.51 212.33 L492.71 210.25 L493.91 208.13 L495.11 205.98 L496.31 203.79 L497.51 201.57 L498.71 199.31 L499.91 197.02 L501.11 194.69 L502.31 192.32 L503.51 189.92 L504.71 187.49 L505.91 185.03 L507.11 182.53 L508.31 180.00 L509.51 177.45 L510.71 174.85 L511.91 172.23 L513.11 169.58 L514.30 166.90 L515.50 164.19 L516.70 161.46 L517.90 158.69 L519.10 155.90 L520.30 153.08 L521.50 150.24 L522.70 147.37 L523.90 144.48 L525.10 141.56 L526.30 138.62 L527.50 135.66 L528.70 132.68 L529.90 129.67 L531.10 126.65 L532.30 123.60 L533.50 120.53 L534.70 117.45 L535.90 114.35 L537.10 111.23 L538.30 108.10" stroke="#62AE1C"/>
<path d="M49.75 108.10 L50.25 28.84 L50.68 40.72 L50.80 52.61 L51.01 68.47 L51.23 80.36 L51.52 90.66 L51.89 98.59 L52.32 103.34 L52.75 105.72 L53.75 108.94 L54.65 109.63 L56.33 108.86 L58.40 107.01 L59.60 106.91 L60.80 106.78 L62.00 106.64 L63.20 106.48 L64.40 106.30 L65.60 106.11 L66.79 105.90 L67.99 105.67 L69.19 105.43 L70.39 105.17 L71.59 104.89 L72.79 104.60 L73.99 104.29 L75.19 103.96 L76.39 103.62 L77.59 103.26 L78.79 102.89 L79.99 102.50 L81.19 102.10 L82.39 101.68 L83.59 101.25 L84.79 100.81 L85.99 100.35 L87.19 99.88 L88.39 99.39 L89.59 98.89 L90.79 98.38 L91.99 97.85 L93.19 97.31 L94.39 96.76 L95.59 96.20 L96.79 95.63 L97.99 95.04 L99.19 94.45 L100.39 93.84 L101.59 93.22 L102.79 92.60 L103.99 91.96 L105.19 91.31 L106.39 90.66 L107.59 90.00 L108.79 89.32 L109.99 88.64 L111.19 87.96 L112.39 87.26 L113.59 86.56 L114.79 85.85 L115.99 85.14 L117.18 84.42 L118.38 83.69 L119.58 82.96 L120.78 82.22 L121.98 81.48 L123.18 80.74 L124.38 79.99 L125.58 79.24 L126.78 78.49 L127.98 77.73 L129.18 76.98 L130.38 76.22 L131.58 75.46 L132.78 74.70 L133.98 73.94 L135.18 73.18 L136.38 72.41 L137.58 71.66 L138.78 70.90 L139.98 70.14 L141.18 69.39 L142.38 68.64 L143.58 67.89 L144.78 67.14 L145.98 66.40 L147.18 65.67 L148.38 64.93 L149.58 64.21 L150.78 63.49 L151.98 62.77 L153.18 62.06 L154.38 61.36 L155.58 60.67 L156.78 59.98 L157.98 59.30 L159.18 58.63 L160.38 57.97 L161.58 57.32 L162.78 56.68 L163.98 56.05 L165.18 55.43 L166.37 54.82 L167.57 54.22 L168.77 53.64 L169.97 53.06 L171.17 52.50 L172.37 51.95 L173.57 51.42 L174.77 50.90 L175.97 50.39 L177.17 49.90 L178.37 49.42 L179.57 48.96 L180.77 48.52 L181.97 48.09 L183.17 47.67 L184.37 47.28 L185.57 46.90 L186.77 46.54 L187.97 46.19 L189.17 45.87 L190.37 45.56 L191.57 45.27 L192.77 45.00 L193.97 44.75 L195.17 44.52 L196.37 44.31 L197.57 44.13 L198.77 43.96 L199.97 43.81 L201.17 43.68 L202.37 43.58 L203.57 43.50 L204.77 43.44 L205.97 43.40 L207.17 43.38 L208.37 43.39 L209.57 43.42 L210.77 43.47 L211.97 43.55 L213.17 43.65 L214.37 43.78 L215.56 43.93 L216.76 44.10 L217.96 44.30 L219.16 44.52 L220.36 44.77 L221.56 45.04 L222.76 45.33 L223.96 45.66 L225.16 46.00 L226.36 46.38 L227.56 46.78 L228.76 47.20 L229.96 47.65 L231.16 48.13 L232.36 48.63 L233.56 49.16 L234.76 49.71 L235.96 50.29 L237.16 50.90 L238.36 51.53 L239.56 52.19 L240.76 52.88 L241.96 53.59 L243.16 54.33 L244.36 55.09 L245.56 55.88 L246.76 56.70 L247.96 57.54 L249.16 58.41 L250.36 59.30 L251.56 60.23 L252.76 61.17 L253.96 62.14 L255.16 63.14 L256.36 64.17 L257.56 65.21 L258.76 66.29 L259.96 67.39 L261.16 68.51 L262.36 69.66 L263.56 70.84 L264.76 72.03 L265.95 73.26 L267.15 74.50 L268.35 75.78 L269.55 77.07 L270.75 78.39 L271.95 79.73 L273.15 81.09 L274.35 82.48 L275.55 83.89 L276.75 85.32 L277.95 86.78 L279.15 88.25 L280.35 89.75 L281.55 91.27 L282.75 92.80 L283.95 94.36 L285.15 95.94 L286.35 97.54 L287.55 99.16 L288.75 100.80 L289.95 102.45 L291.15 104.12 L292.35 105.82 L293.55 107.53 L294.75 109.24 L295.95 110.97 L297.15 112.72 L298.35 114.48 L299.55 116.25 L300.75 118.04 L301.95 119.85 L303.15 121.67 L304.35 123.50 L305.55 125.35 L306.75 127.20 L307.95 129.07 L309.15 130.96 L310.35 132.85 L311.55 134.75 L312.75 136.66 L313.95 138.59 L315.14 140.52 L316.34 142.46 L317.54 144.41 L318.74 146.36 L319.94 148.32 L321.14 150.29 L322.34 152.27 L323.54 154.25 L324.74 156.23 L325.94 158.22 L327.14 160.21 L328.34 162.20 L329.54 164.20 L330.74 166.20 L331.94 168.20 L333.14 170.20 L334.34 172.20 L335.54 174.20 L336.74 176.20 L337.94 178.19 L339.14 180.19 L340.34 182.18 L341.54 184.16 L342.74 186.15 L343.94 188.12 L345.14 190.09 L346.34 192.06 L347.54 194.02 L348.74 195.97 L349.94 197.91 L351.14 199.85 L352.34 201.77 L353.54 203.69 L354.74 205.59 L355.94 207.48 L357.14 209.37 L358.34 211.23 L359.54 213.09 L360.74 214.93 L361.94 216.76 L363.14 218.57 L364.34 220.37 L365.53 222.15 L366.73 223.91 L367.93 225.66 L369.13 227.38 L370.33 229.09 L371.53 230.78 L372.73 232.45 L373.93 234.10 L375.13 235.72 L376.33 237.33 L377.53 238.91 L378.73 240.47 L379.93 242.01 L381.13 243.52 L382.33 245.00 L383.53 246.46 L384.73 247.90 L385.93 249.31 L387.13 250.69 L388.33 252.04 L389.53 253.37 L390.73 254.66 L391.93 255.93 L393.13 257.16 L394.33 258.37 L395.53 259.54 L396.73 260.69 L397.93 261.80 L399.13 262.88 L400.33 263.92 L401.53 264.93 L402.73 265.91 L403.93 266.85 L405.13 267.76 L406.33 268.63 L407.53 269.46 L408.73 270.26 L409.93 271.03 L411.13 271.75 L412.33 272.44 L413.53 273.08 L414.72 273.69 L415.92 274.26 L417.12 274.80 L418.32 275.29 L419.52 275.74 L420.72 276.15 L421.92 276.52 L423.12 276.84 L424.32 277.13 L425.52 277.38 L426.72 277.58 L427.92 277.74 L429.12 277.85 L430.32 277.93 L431.52 277.96 L432.72 277.94 L433.92 277.89 L435.12 277.78 L436.32 277.64 L437.52 277.45 L438.72 277.21 L439.92 276.93 L441.12 276.60 L442.32 276.23 L443.52 275.81 L444.72 275.35 L445.92 274.84 L447.12 274.29 L448.32 273.69 L449.52 273.04 L450.72 272.35 L451.92 271.61 L453.12 270.82 L454.32 269.99 L455.52 269.11 L456.72 268.19 L457.92 267.21 L459.12 266.20 L460.32 265.13 L461.52 264.02 L462.72 262.86 L463.91 261.66 L465.11 260.41 L466.31 259.12 L467.51 257.77 L468.71 256.39 L469.91 254.95 L471.11 253.47 L472.31 251.95 L473.51 250.38 L474.71 248.76 L475.91 247.10 L477.11 245.40 L478.31 243.65 L479.51 241.86 L480.71 240.02 L481.91 238.14 L483.11 236.21 L484.31 234.24 L485.51 232.23 L486.71 230.18 L487.91 228.08 L489.11 225.94 L490.31 223.77 L491.51 221.54 L492.71 219.28 L493.91 216.98 L495.11 214.64 L496.31 212.26 L497.51 209.84 L498.71 207.38 L499.91 204.88 L501.11 202.34 L502.31 199.77 L503.51 197.16 L504.71 194.51 L505.91 191.83 L507.11 189.12 L508.31 186.36 L509.51 183.58 L510.71 180.76 L511.91 177.91 L513.11 175.02 L514.30 172.10 L515.50 169.15 L516.70 166.18 L517.90 163.17 L519.10 160.13 L520.30 157.06 L521.50 153.97 L522.70 150.85 L523.90 147.70 L525.10 144.52 L526.30 141.32 L527.50 138.10 L528.70 134.85 L529.90 131.58 L531.10 128.29 L532.30 124.97 L533.50 121.63 L534.70 118.28 L535.90 114.90 L537.10 111.51 L538.30 108.10" stroke="#12BDF4"/>
</g>
<rect x="474.1" y="19.4" width="55.6" height="77.3" fill="#fff" stroke="#808080" stroke-width="1"/>
<g class="cv">
<path d="M477.4 27.60 H508.9" stroke="#006FCC"/>
<path d="M477.4 40.00 H508.9" stroke="#FF4D12"/>
<path d="M477.4 52.50 H508.9" stroke="#FFB30F"/>
<path d="M477.4 64.90 H508.9" stroke="#9127A6"/>
<path d="M477.4 77.30 H508.9" stroke="#62AE1C"/>
<path d="M477.4 89.70 H508.9" stroke="#12BDF4"/>
</g>
<text class="lg" x="511.6" y="30.30">y4</text>
<text class="lg" x="511.6" y="42.92">y8</text>
<text class="lg" x="511.6" y="55.54">y12</text>
<text class="lg" x="511.6" y="68.16">y16</text>
<text class="lg" x="511.6" y="80.78">y20</text>
<text class="lg" x="511.6" y="93.40">y30</text>
</svg></body></html>
